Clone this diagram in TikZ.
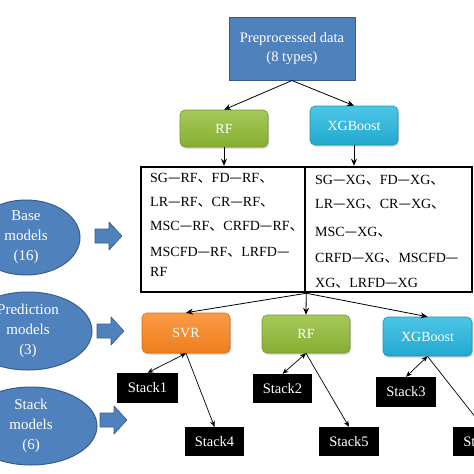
\documentclass[tikz,border=0pt]{standalone}
\usepackage{fontspec}
\setmainfont{Liberation Serif}
\newfontfamily\cjk{Noto Sans CJK SC}
\usetikzlibrary{arrows.meta,shadows,shapes.geometric}
\newcommand\Dsh{{\cjk —}}
\newcommand\Cmm{{\cjk 、}}
\definecolor{blu}{HTML}{4F81BD}
\definecolor{bluD}{HTML}{385D8A}
\definecolor{grT}{HTML}{A6C95A}
\definecolor{grB}{HTML}{86AE32}
\definecolor{grD}{HTML}{76982C}
\definecolor{cyT}{HTML}{4CC6E6}
\definecolor{cyB}{HTML}{22A8D0}
\definecolor{cyD}{HTML}{2293B5}
\definecolor{orT}{HTML}{F99B45}
\definecolor{orB}{HTML}{EE7E1E}
\definecolor{orD}{HTML}{D06F1A}
\tikzset{
  cbox/.style={rounded corners=5pt, minimum width=88pt, minimum height=38pt, text=white, line width=0.6pt,
    drop shadow={opacity=.35, shadow xshift=1pt, shadow yshift=-1.5pt}},
  greenbox/.style={cbox, top color=grT, bottom color=grB, draw=grD},
  cyanbox/.style={cbox, top color=cyT, bottom color=cyB, draw=cyD},
  orangebox/.style={cbox, top color=orT, bottom color=orB, draw=orD},
  stk/.style={fill=black, text=white, minimum width=59pt, minimum height=29pt, inner sep=0pt,
    font=\fontsize{14.5}{17}\selectfont},
  ell/.style={ellipse, fill=blu, draw=bluD, line width=1pt, text=white, align=center, inner sep=0pt,
    font=\fontsize{15}{20}\selectfont},
  arr/.style={-{Stealth[length=7pt,width=6pt]}, line width=0.8pt},
  darr/.style={{Stealth[length=6pt,width=5pt]}-{Stealth[length=6pt,width=5pt]}, line width=0.7pt},
  sarr/.style={-{Stealth[length=6pt,width=5pt]}, line width=0.7pt},
  ln/.style={anchor=west, inner sep=0pt},
  bigbox/.style={draw, line width=2.5pt, minimum height=125pt, inner sep=0pt},
  barrow/.style={fill=blu, draw=bluD, line width=0.6pt, line join=round}
}
\begin{document}
\begin{tikzpicture}[x=1pt, y=-1pt, font=\fontsize{14}{17}\selectfont]
\useasboundingbox (0,0) rectangle (474,474);
\clip (0,0) rectangle (474,474);
\fill[white] (0,0) rectangle (474,474);

% top
\node[fill=blu, draw=bluD, line width=1pt, text=white, minimum width=126pt, minimum height=63pt, align=center,
  font=\fontsize{14.5}{19}\selectfont] (pre) at (292,48.5) {Preprocessed data\\(8 types)};
\node[greenbox, minimum height=37pt] (rf1) at (224,128.5) {RF};
\node[cyanbox, minimum height=39pt] (xg1) at (354,125.5) {XGBoost};
\draw[arr] (pre.south) -- (rf1.north);
\draw[arr] (pre.south) -- (xg1.north);

% base model boxes
\node[bigbox, minimum width=164pt] (lbox) at (223,229.5) {};
\node[bigbox, minimum width=167pt] (rbox) at (388.5,229.5) {};
\draw[arr] (rf1.south) -- (rf1.south |- lbox.north);
\draw[arr] (xg1.south) -- (xg1.south |- rbox.north);

\node[ln] (l1) at (150,178) {SG\Dsh RF\Cmm FD\Dsh RF\Cmm};
\node[ln] (l2) at (150,202) {LR\Dsh RF\Cmm CR\Dsh RF\Cmm};
\node[ln] (l3) at (150,226) {MSC\Dsh RF\Cmm CRFD\Dsh RF\Cmm};
\node[ln] (l4) at (150,252) {MSCFD\Dsh RF\Cmm LRFD\Dsh};
\node[ln] (l5) at (150,272) {RF};
\node[ln] (r1) at (315,180) {SG\Dsh XG\Cmm FD\Dsh XG\Cmm};
\node[ln] (r2) at (315,204) {LR\Dsh XG\Cmm CR\Dsh XG\Cmm};
\node[ln] (r3) at (315,232) {MSC\Dsh XG\Cmm};
\node[ln] (r4) at (315,258) {CRFD\Dsh XG\Cmm MSCFD\Dsh};
\node[ln] (r5) at (315,283) {XG\Cmm LRFD\Dsh XG};

% prediction models
\node[orangebox, minimum height=40pt] (svr) at (186,333) {SVR};
\node[greenbox] (rf2) at (306,334) {RF};
\node[cyanbox, minimum height=39pt, minimum width=89pt] (xg2) at (427.5,336.5) {XGBoost};
\draw[arr] (lbox.south east) -- (svr.north);
\draw[arr] (lbox.south east) -- (rf2.north);
\draw[arr] (lbox.south east) -- (xg2.north);

% stacks
\node[stk, minimum width=61pt, minimum height=30pt] (s1) at (147.5,388) {Stack1};
\node[stk] (s2) at (282.5,388.5) {Stack2};
\node[stk, minimum width=60pt, minimum height=30pt] (s3) at (406,392) {Stack3};
\node[stk] (s4) at (214.5,441.5) {Stack4};
\node[stk, minimum width=60pt] (s5) at (349,441.5) {Stack5};
\node[stk, minimum width=60pt] (s6) at (483,441.5) {Stack6};
\draw[darr] (s1.north) -- (svr.south);
\draw[sarr] (svr.south) -- (s4.north);
\draw[darr] (s2.north) -- (rf2.south);
\draw[sarr] (rf2.south) -- (s5.north);
\draw[darr] (s3.north) -- (xg2.south);
\draw[sarr] (xg2.south) -- (s6.north);

% left ellipses
\node[ell, minimum width=108pt, minimum height=71pt] (e1) at (26,237.5) {Base\\models\\(16)};
\node[ell, minimum width=128pt, minimum height=78pt] (e2) at (28,331) {Prediction\\models\\(3)};
\node[ell, minimum width=132pt, minimum height=78pt] (e3) at (31,426) {Stack\\models\\(6)};

% block arrows
\foreach \cx/\cy in {95/236, 97/331, 100/420} {
  \draw[barrow] (\cx,\cy-7) -- (\cx+14,\cy-7) -- (\cx+14,\cy-14) -- (\cx+27,\cy) -- (\cx+14,\cy+14)
     -- (\cx+14,\cy+7) -- (\cx,\cy+7) -- cycle;
}
\end{tikzpicture}
\end{document}
